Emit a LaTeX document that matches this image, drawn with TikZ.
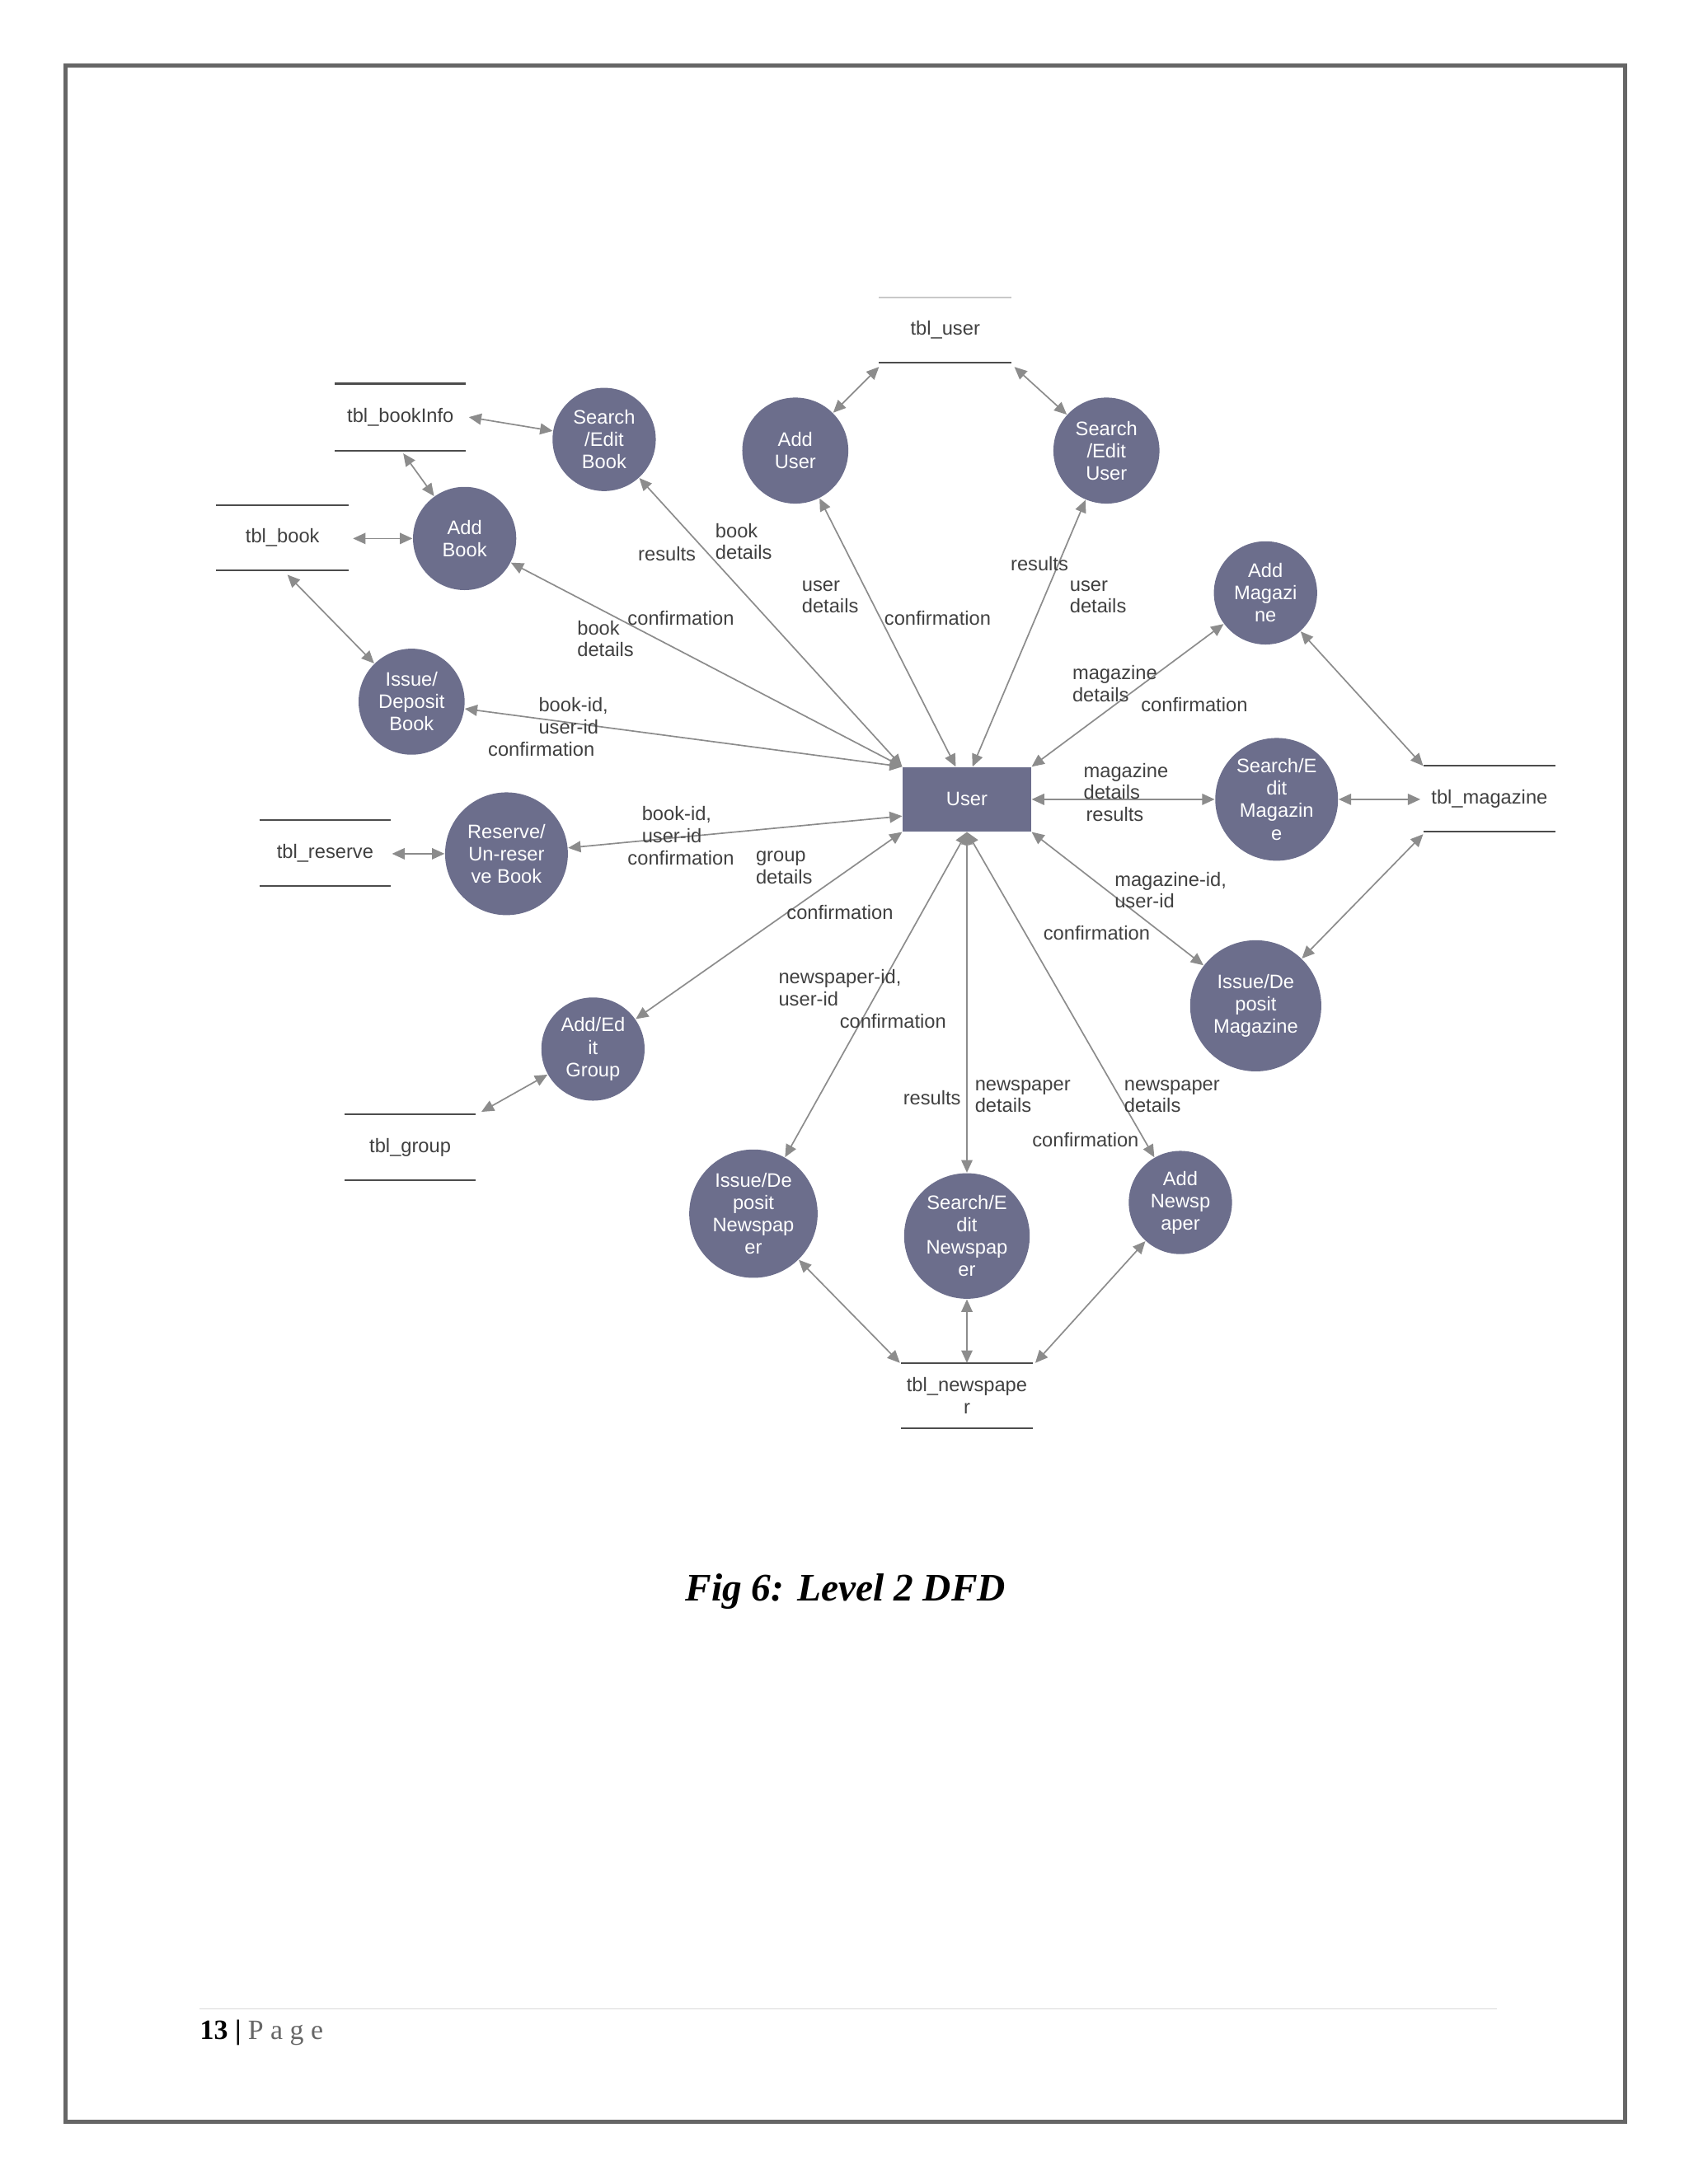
\documentclass[tikz,border=0pt]{standalone}
\usepackage{fontspec}
\setmainfont{Liberation Sans}
\newfontfamily\serif{Liberation Serif}
\usetikzlibrary{arrows.meta}
\definecolor{proc}{HTML}{6C6E8C}
\definecolor{ln}{HTML}{8C8C8C}
\tikzset{
 proc/.style={circle,fill=proc,text=white,font=\fontsize{7}{8}\selectfont,align=center,inner sep=0pt,minimum size=#1/2},
 ent/.style={fill=proc,text=white,font=\fontsize{7}{8}\selectfont,minimum width=46pt,minimum height=23pt,inner sep=0pt},
 lab/.style={font=\fontsize{7}{7.8}\selectfont,text=black!75,align=left,inner sep=0pt},
 storetxt/.style={font=\fontsize{7}{8}\selectfont,text=black!75,align=center},
 flow/.style={draw=ln,line width=0.5pt,{Triangle[length=4.5pt,width=4pt]}-{Triangle[length=4.5pt,width=4pt]},fill=ln},
 sline/.style={draw=black!70,line width=0.6pt}
}
\begin{document}
\begin{tikzpicture}[x=0.5pt,y=-0.5pt]
\useasboundingbox (0,0) rectangle (1210,1565.6);
\draw[black!60,line width=1.5pt] (47,47) rectangle (1165,1521);
% stores
\newcommand\store[6]{% name, x1,x2,ytop,ybot,text
 \draw[sline] (#2,#4) -- (#3,#4); \draw[sline] (#2,#5) -- (#3,#5);
 \node[storetxt] (#1) at ({(#2+#3)/2},{(#4+#5)/2}) {#6};}
\store{tuser}{630}{725}{213}{260}{tbl\_user}
\draw[white,line width=0.8pt,opacity=0.7] (630,213) -- (725,213);
\store{tbookinfo}{240}{334}{275}{323}{tbl\_bookInfo}
\store{tbook}{155}{250}{362}{409}{tbl\_book}
\store{treserve}{186}{280}{588}{635}{tbl\_reserve}
\store{tgroup}{247}{341}{799}{846}{tbl\_group}
\store{tmag}{1020}{1115}{549}{596}{tbl\_magazine}
\store{tnews}{646}{740}{977}{1024}{tbl\_newspape\\r}
% entity
\node[ent] (user) at (693,573) {User};
% processes
\node[proc=74pt] (seb) at (433,315) {Search\\/Edit\\Book};
\node[proc=76pt] (au) at (570,323) {Add\\User};
\node[proc=76pt] (seu) at (793,323) {Search\\/Edit\\User};
\node[proc=74pt] (ab) at (333,386) {Add\\Book};
\node[proc=74pt] (am) at (907,425) {Add\\Magazi\\ne};
\node[proc=76pt] (idb) at (295,503) {Issue/\\Deposit\\Book};
\node[proc=88pt] (sem) at (915,573) {Search/E\\dit\\Magazin\\e};
\node[proc=88pt] (rb) at (363,612) {Reserve/\\Un-reser\\ve Book};
\node[proc=94pt] (idm) at (900,721) {Issue/De\\posit\\Magazine};
\node[proc=74pt] (ag) at (425,752) {Add/Ed\\it\\Group};
\node[proc=92pt] (idn) at (540,870) {Issue/De\\posit\\Newspap\\er};
\node[proc=90pt] (sen) at (693,886) {Search/E\\dit\\Newspap\\er};
\node[proc=74pt] (an) at (846,862) {Add\\Newsp\\aper};
% store links
\draw[flow] (336,299) -- (seb);
\draw[flow] (289,325) -- (ab);
\draw[flow] (253,386) -- (ab);
\draw[flow] (206,412) -- (idb);
\draw[flow] (630,263) -- (au);
\draw[flow] (727,263) -- (seu);
\draw[flow] (281,612) -- (rb);
\draw[flow] (345,797) -- (ag);
\draw[flow] (1020,549) -- (am);
\draw[flow] (1018,573) -- (sem);
\draw[flow] (1020,598) -- (idm);
\draw[flow] (645,977) -- (idn);
\draw[flow] (693,977) -- (sen);
\draw[flow] (742,977) -- (an);
% user links
\draw[flow] (user.north west) -- (seb);
\draw[flow] ([xshift=-4pt]user.north) -- (au);
\draw[flow] ([xshift=2pt]user.north) -- (seu);
\draw[flow] (user.north west) -- (ab);
\draw[flow] (user.north east) -- (am);
\draw[flow] (user.north west) -- (idb);
\draw[flow] (user.east) -- (sem);
\draw[flow] ([yshift=-6pt]user.west) -- (rb);
\draw[flow] (user.south east) -- (idm);
\draw[flow] (user.south west) -- (ag);
\draw[flow] (user.south) -- (idn);
\draw[flow] (user.south) -- (sen);
\draw[flow] (user.south) -- (an);
% labels
\node[lab] (l1) at (478,397) {results};
\node[lab] (l2) at (533,388) {book\\details};
\node[lab] (l3) at (595,428) {user\\details};
\node[lab] (l4) at (672,443) {confirmation};
\node[lab] (l5) at (745,404) {results};
\node[lab] (l6) at (787,428) {user\\details};
\node[lab] (l7) at (434,458) {book\\details};
\node[lab] (l8) at (488,443) {confirmation};
\node[lab] (l9) at (799,490) {magazine\\details};
\node[lab] (l10) at (856,505) {confirmation};
\node[lab] (l11) at (411,513) {book-id,\\user-id};
\node[lab] (l12) at (388,537) {confirmation};
\node[lab] (l13) at (807,560) {magazine\\details};
\node[lab] (l14) at (799,584) {results};
\node[lab] (l15) at (485,591) {book-id,\\user-id};
\node[lab] (l16) at (488,615) {confirmation};
\node[lab] (l17) at (562,622) {group\\details};
\node[lab] (l18) at (602,654) {confirmation};
\node[lab] (l19) at (839,638) {magazine-id,\\user-id};
\node[lab] (l20) at (786,669) {confirmation};
\node[lab] (l21) at (602,708) {newspaper-id,\\user-id};
\node[lab] (l22) at (640,732) {confirmation};
\node[lab] (l23) at (668,787) {results};
\node[lab] (l24) at (733,786) {newspaper\\details};
\node[lab] (l25) at (840,786) {newspaper\\details};
\node[lab] (l26) at (778,817) {confirmation};
% caption & footer
\node[font=\serif\bfseries\itshape\fontsize{14}{16}\selectfont] (cap) at (606,1141) {Fig 6: Level 2 DFD};
\draw[black!15,line width=0.5pt] (143,1440) -- (1073,1440);
\node[anchor=west,font=\serif\fontsize{10}{12}\selectfont,inner sep=0pt] (pg) at (143,1457) {\textbf{13 |} \textcolor{black!60}{P a g e}};
\end{tikzpicture}
\end{document}
